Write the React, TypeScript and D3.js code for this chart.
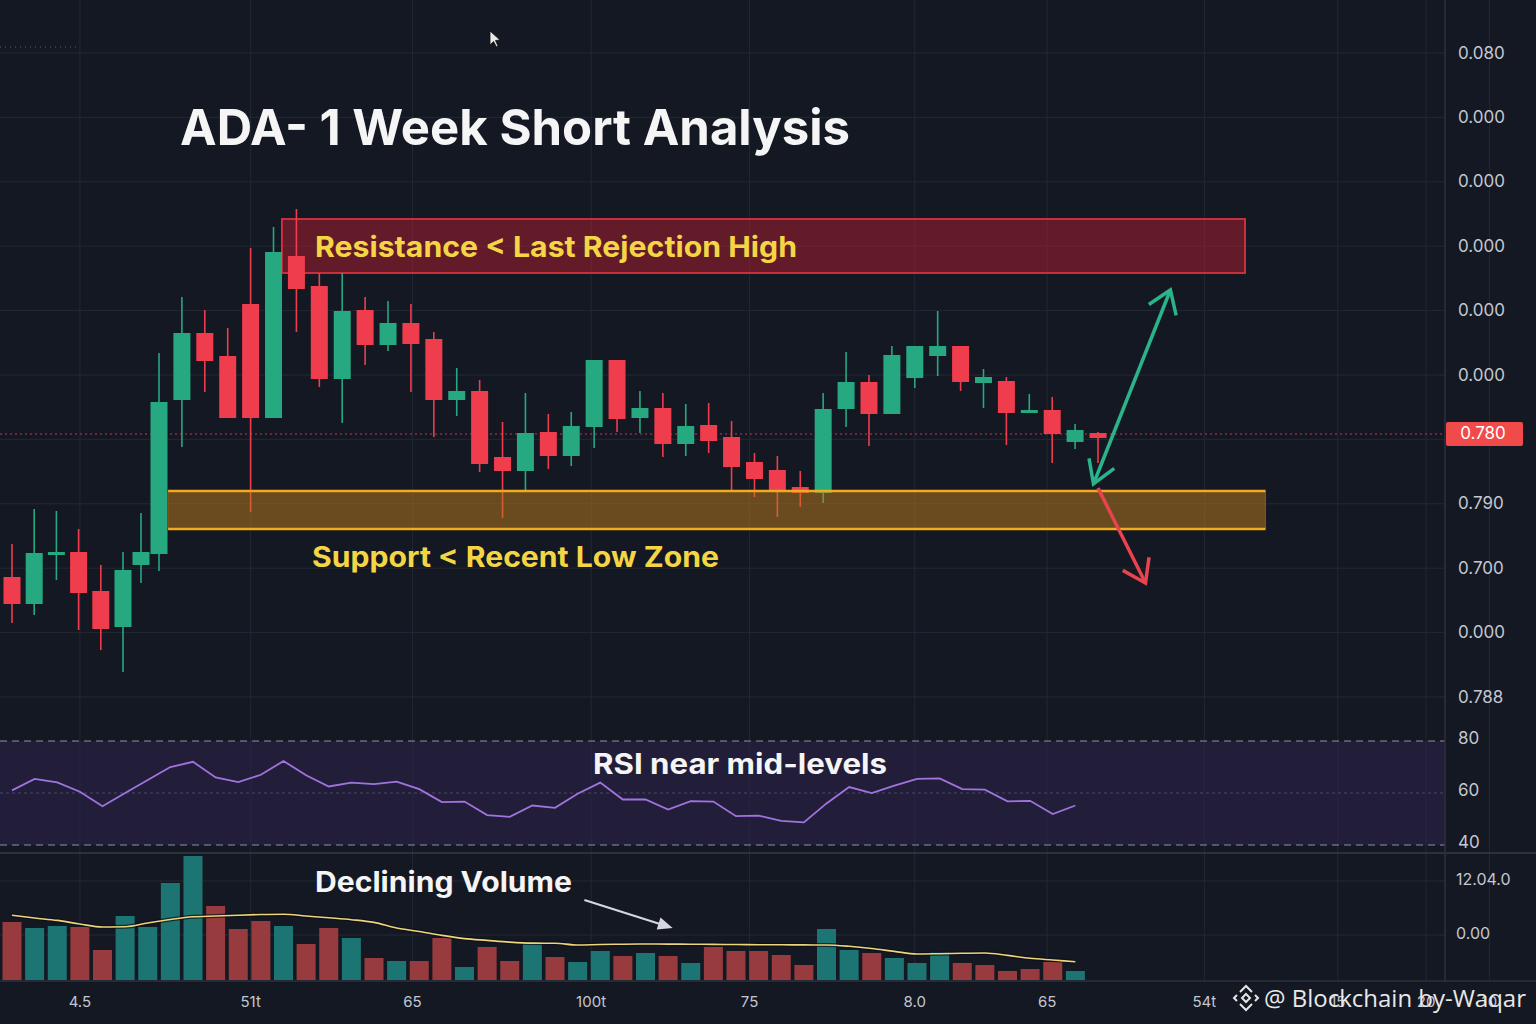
import * as d3 from "d3";

// candles (weekly-ish bars), prices in ADA/USDT
const candleOpen = [
  0.66, 0.6465, 0.671, 0.6725, 0.653, 0.635, 0.666, 0.6715, 0.7485, 0.782,
  0.7705, 0.7965, 0.7395, 0.8205, 0.8055, 0.759, 0.7935, 0.776, 0.787, 0.779,
  0.7485, 0.753, 0.72, 0.713, 0.7325, 0.7205, 0.735, 0.7685, 0.7395, 0.7445,
  0.7265, 0.736, 0.73, 0.7175, 0.7135, 0.705, 0.702, 0.744, 0.7575, 0.7415,
  0.7595, 0.7705, 0.7755, 0.757, 0.758, 0.742, 0.7435, 0.7275, 0.732,
];
const candleHigh = [
  0.6765, 0.694, 0.693, 0.684, 0.666, 0.6725, 0.692, 0.772, 0.8, 0.7935,
  0.7845, 0.8245, 0.835, 0.844, 0.812, 0.812, 0.8, 0.798, 0.7965, 0.7825,
  0.7645, 0.7585, 0.7375, 0.752, 0.7415, 0.7425, 0.7685, 0.7685, 0.753, 0.752,
  0.7465, 0.747, 0.738, 0.722, 0.7205, 0.713, 0.752, 0.7725, 0.761, 0.7755,
  0.7755, 0.793, 0.7755, 0.764, 0.76, 0.7515, 0.75, 0.7365, 0.7325,
];
const candleLow = [
  0.637, 0.641, 0.6585, 0.6335, 0.6235, 0.6125, 0.657, 0.663, 0.725, 0.7525,
  0.7395, 0.6925, 0.7395, 0.7825, 0.755, 0.737, 0.766, 0.773, 0.7525, 0.73,
  0.7405, 0.7125, 0.6895, 0.7035, 0.714, 0.7155, 0.7245, 0.7325, 0.732, 0.72,
  0.7205, 0.722, 0.7035, 0.7, 0.69, 0.695, 0.697, 0.735, 0.7255, 0.7415,
  0.7545, 0.7605, 0.753, 0.7445, 0.726, 0.742, 0.717, 0.724, 0.717,
];
const candleClose = [
  0.6465, 0.672, 0.6725, 0.652, 0.634, 0.6635, 0.6725, 0.7475, 0.782, 0.768,
  0.7395, 0.7395, 0.8225, 0.804, 0.759, 0.793, 0.776, 0.787, 0.7765, 0.7485,
  0.753, 0.7165, 0.713, 0.732, 0.7205, 0.7355, 0.7685, 0.739, 0.7445, 0.7265,
  0.7355, 0.728, 0.715, 0.709, 0.7035, 0.702, 0.744, 0.7575, 0.7415, 0.771,
  0.7755, 0.7755, 0.7575, 0.76, 0.742, 0.7435, 0.7315, 0.7335, 0.7295,
];

// volume panel (M), 1 = up bar
const volumes = [
  58, 52, 54, 53, 30, 64, 53, 97, 124, 74, 51, 59, 54, 36, 52, 42, 22, 19, 19, 42,
  13, 33, 19, 38, 23, 18, 29, 24, 27, 24, 17, 33, 29, 29, 25, 15, 51, 30, 27, 22,
  17, 28, 17, 15, 9, 11, 18, 9,
];
const volumeUp = [
  0, 1, 1, 0, 0, 1, 1, 1, 1, 0, 0, 0, 1, 0, 0, 1, 0, 1, 0, 0, 1, 0, 0, 1, 0, 1,
  1, 0, 1, 0, 1, 0, 0, 0, 0, 0, 1, 1, 0, 1, 1, 1, 0, 0, 0, 0, 0, 1,
];
const volumeMA = [
  64.7, 62, 59.6, 56, 53, 53.2, 57, 60.5, 63.2, 64, 64.8, 65.5, 65.8, 64, 62.2,
  60.3, 57.6, 52, 48.5, 44.6, 41.4, 39.6, 37.9, 36.9, 36.7, 35, 35.5, 35.8, 36,
  35.9, 35.8, 35.6, 35.5, 35.3, 35.2, 35.1, 35, 33.7, 31.5, 28.6, 26, 26.3, 26.7,
  27, 24.6, 21.7, 20, 18.3,
];

// RSI
const rsi = [
  61, 65.4, 64.1, 60.5, 54.9, 60, 65, 70, 72, 66, 64.2, 67, 72.3, 66.8, 62.5, 64,
  63.4, 64.4, 61.5, 56.5, 56.7, 51.5, 50.8, 55.2, 54.3, 59.7, 64, 57.5, 57.5, 53.6,
  56.9, 56.7, 51.1, 51.3, 49.3, 48.7, 56, 62.3, 60, 62.8, 65.4, 65.6, 61.5, 61.3,
  56.8, 57, 51.9, 55.2,
];

// axis labels as printed on the chart (bottom to top)
const priceTickLabels = ["0.788", "0.000", "0.700", "0.790", "", "0.000", "0.000", "0.000", "0.000", "0.000", "0.080"];
const rsiTicks = [40, 60, 80];
const volumeTickValues = [45, 99];
const volumeTickLabels = ["0.00", "12.04.0"];
const timeTickIndex = [3, 10.55, 17.7, 25.6, 32.6, 39.9, 45.75, 52.7, 58.6, 62.5, 65.3];
const timeTickLabels = ["4.5", "51t", "65", "100t", "75", "8.0", "65", "54t", "15", "20", "10"];

// annotations
const lastPrice = 0.7315;
const lastPriceLabel = "0.780";
const resistanceZone = { from: 11.93, to: 54.5, low: 0.812, high: 0.839 };
const supportZone = { from: 6.9, to: 55.4, low: 0.684, high: 0.703 };
const upArrow = { i0: 47.8, p0: 0.7065, i1: 51.2, p1: 0.8035 };
const downArrow = { i0: 48, p0: 0.7045, i1: 50.1, p1: 0.657 };
const volArrow = { i0: 25.3, v0: 80, i1: 29.2, v1: 52 };

const BG = "#141822";
const GRID = "#232834";
const UP = "#26a881";
const DOWN = "#ef3d4d";
const AXIS_TEXT = "#c3c7d1";
const RIGHT = 1445;

function chevron(x1: number, y1: number, x2: number, y2: number, len: number, ang: number) {
  const a = Math.atan2(y2 - y1, x2 - x1);
  const p1 = [x2 - len * Math.cos(a - ang), y2 - len * Math.sin(a - ang)];
  const p2 = [x2 - len * Math.cos(a + ang), y2 - len * Math.sin(a + ang)];
  return `M${p1[0]},${p1[1]}L${x2},${y2}L${p2[0]},${p2[1]}`;
}

export default function App() {
  // time axis for the panels; candles sit slightly tighter at the start
  const x = d3.scaleLinear().domain([0, 48]).range([12, 1098]);
  const xc = d3.scaleLinear().domain([0, 5, 7, 48]).range([12, 123, 159, 1098]);
  const y = d3.scaleLinear().domain([0.6, 0.922]).range([697, 53]);
  const yRsi = d3.scaleLinear().domain([40, 80]).range([845, 741]);
  const yVol = d3.scaleLinear().domain([0, 125]).range([980, 855]);
  const priceTicks = d3.range(11).map((i) => 0.6 + i * 0.0322);

  const bodyW = 17;
  const volW = 19;

  const rsiPath = d3
    .line<number>()
    .x((_, i) => x(i))
    .y((d) => yRsi(d))(rsi);
  const maPath = d3
    .line<number>()
    .x((_, i) => x(i))
    .y((d) => yVol(d))
    .curve(d3.curveMonotoneX)(volumeMA);

  const candles = candleOpen.map((o, i) => {
    const c = candleClose[i];
    const up = c >= o;
    const col = up ? UP : DOWN;
    const top = y(Math.max(o, c));
    const h = Math.max(2, Math.abs(y(o) - y(c)));
    return (
      <g key={i}>
        <line x1={xc(i)} x2={xc(i)} y1={y(candleHigh[i])} y2={y(candleLow[i])} stroke={col} strokeWidth={1.6} />
        <rect x={xc(i) - bodyW / 2} y={top} width={bodyW} height={h} fill={col} />
      </g>
    );
  });

  const volBars = volumes.map((v, i) => (
    <rect
      key={i}
      x={x(i) - volW / 2}
      y={yVol(v)}
      width={volW}
      height={yVol(0) - yVol(v)}
      fill={volumeUp[i] ? "#1d7573" : "#983b3e"}
    />
  ));

  const ua = { x1: x(upArrow.i0), y1: y(upArrow.p0), x2: x(upArrow.i1), y2: y(upArrow.p1) };
  const da = { x1: x(downArrow.i0), y1: y(downArrow.p0), x2: x(downArrow.i1), y2: y(downArrow.p1) };
  const va = { x1: x(volArrow.i0), y1: yVol(volArrow.v0), x2: x(volArrow.i1), y2: yVol(volArrow.v1) };
  const vaAng = Math.atan2(va.y2 - va.y1, va.x2 - va.x1);

  const font = "Inter, 'Open Sans', sans-serif";

  return (
    <svg
      width={1536}
      height={1024}
      style={{ position: "absolute", left: 0, top: 0, display: "block" }}
      fontFamily={font}
    >
      <rect width={1536} height={1024} fill={BG} />

      {/* grid */}
      {priceTicks.map((t, i) => (
        <line key={"h" + i} x1={0} x2={RIGHT} y1={y(t)} y2={y(t)} stroke={GRID} strokeWidth={1} />
      ))}
      {volumeTickValues.map((t, i) => (
        <line key={"hv" + i} x1={0} x2={RIGHT} y1={yVol(t)} y2={yVol(t)} stroke={GRID} strokeWidth={1} />
      ))}
      {timeTickIndex.map((t, i) => (
        <line key={"v" + i} x1={x(t)} x2={x(t)} y1={0} y2={980} stroke={GRID} strokeWidth={1} />
      ))}
      <line x1={0} x2={80} y1={47} y2={47} stroke="#5a5f6e" strokeDasharray="1 4" />

      {/* RSI panel */}
      <rect x={0} y={yRsi(80)} width={RIGHT} height={yRsi(40) - yRsi(80)} fill="#2a2248" opacity={0.65} />
      <line x1={0} x2={RIGHT} y1={yRsi(80)} y2={yRsi(80)} stroke="#8d92a3" strokeDasharray="7 5" strokeWidth={1.2} />
      <line x1={0} x2={RIGHT} y1={yRsi(40)} y2={yRsi(40)} stroke="#8d92a3" strokeDasharray="7 5" strokeWidth={1.2} />
      <line x1={0} x2={RIGHT} y1={yRsi(60)} y2={yRsi(60)} stroke="#4a4866" strokeDasharray="3 3" strokeWidth={1} />
      <path d={rsiPath ?? ""} fill="none" stroke="#a173df" strokeWidth={1.8} />
      <line x1={0} x2={1536} y1={853} y2={853} stroke="#363a47" strokeWidth={1.5} />

      {/* resistance zone under candles */}
      <rect
        x={x(resistanceZone.from)}
        y={y(resistanceZone.high)}
        width={x(resistanceZone.to) - x(resistanceZone.from)}
        height={y(resistanceZone.low) - y(resistanceZone.high)}
        fill="#c42036"
        fillOpacity={0.45}
        stroke="#d8323e"
        strokeWidth={1.8}
      />

      {/* last price line */}
      <line x1={0} x2={RIGHT} y1={y(lastPrice)} y2={y(lastPrice)} stroke="#e0405a" strokeDasharray="2 3" strokeWidth={1} opacity={0.85} />

      {candles}

      {/* support zone over candles */}
      <rect
        x={x(supportZone.from)}
        y={y(supportZone.high)}
        width={x(supportZone.to) - x(supportZone.from)}
        height={y(supportZone.low) - y(supportZone.high)}
        fill="#c07c1c"
        fillOpacity={0.5}
        stroke="#8a5a18"
        strokeWidth={1}
      />
      <line x1={x(supportZone.from)} x2={x(supportZone.to)} y1={y(supportZone.high)} y2={y(supportZone.high)} stroke="#f2aa1e" strokeWidth={2.5} />
      <line x1={x(supportZone.from)} x2={x(supportZone.to)} y1={y(supportZone.low)} y2={y(supportZone.low)} stroke="#f2aa1e" strokeWidth={2.5} />

      {/* scenario arrows */}
      <line x1={ua.x1} y1={ua.y1} x2={ua.x2} y2={ua.y2} stroke="#2bb38a" strokeWidth={3.5} />
      <path d={chevron(ua.x1, ua.y1, ua.x2, ua.y2, 26, 0.6)} fill="none" stroke="#2bb38a" strokeWidth={3.5} />
      <path d={chevron(ua.x2, ua.y2, ua.x1, ua.y1, 26, 0.55)} fill="none" stroke="#2bb38a" strokeWidth={3.5} />
      <line x1={da.x1} y1={da.y1} x2={da.x2} y2={da.y2} stroke="#e8434f" strokeWidth={3.5} />
      <path d={chevron(da.x1, da.y1, da.x2, da.y2, 26, 0.6)} fill="none" stroke="#e8434f" strokeWidth={3.5} />

      {/* volume */}
      {volBars}
      <path d={maPath ?? ""} fill="none" stroke="#0b0d12" strokeWidth={4} opacity={0.7} />
      <path d={maPath ?? ""} fill="none" stroke="#ecd57a" strokeWidth={1.6} />
      <line x1={0} x2={1536} y1={981} y2={981} stroke="#2c303c" strokeWidth={1.5} />

      <line
        x1={va.x1}
        y1={va.y1}
        x2={va.x2 - 10 * Math.cos(vaAng)}
        y2={va.y2 - 10 * Math.sin(vaAng)}
        stroke="#d4d7e0"
        strokeWidth={2.2}
      />
      <path
        d={`M${va.x2},${va.y2}L${va.x2 - 16 * Math.cos(vaAng - 0.4)},${va.y2 - 16 * Math.sin(vaAng - 0.4)}L${va.x2 - 16 * Math.cos(vaAng + 0.4)},${va.y2 - 16 * Math.sin(vaAng + 0.4)}Z`}
        fill="#d4d7e0"
      />

      {/* right axis */}
      <line x1={RIGHT} x2={RIGHT} y1={0} y2={981} stroke="#2c303c" strokeWidth={1.5} />
      {priceTicks.map((t, i) =>
        priceTickLabels[i] ? (
          <text key={"pl" + i} x={1458} y={y(t) + 1} dominantBaseline="middle" fontSize={17} fill={AXIS_TEXT}>
            {priceTickLabels[i]}
          </text>
        ) : null
      )}
      <rect x={1446} y={y(lastPrice) - 12} width={77} height={24} rx={2} fill="#f04a4a" />
      <text x={1483} y={y(lastPrice)} dominantBaseline="middle" textAnchor="middle" fontSize={17} fill="#ffffff">
        {lastPriceLabel}
      </text>
      {rsiTicks.map((t) => (
        <text key={"r" + t} x={1458} y={yRsi(t) - 2} dominantBaseline="middle" fontSize={17} fill={AXIS_TEXT}>
          {t}
        </text>
      ))}
      {volumeTickValues.map((t, i) => (
        <text key={"vl" + i} x={1456} y={yVol(t)} dominantBaseline="middle" fontSize={16} fill={AXIS_TEXT}>
          {volumeTickLabels[i]}
        </text>
      ))}

      {/* bottom axis */}
      {timeTickIndex.map((t, i) => (
        <text key={"t" + i} x={x(t)} y={1003} dominantBaseline="middle" textAnchor="middle" fontSize={15} fill={AXIS_TEXT}>
          {timeTickLabels[i]}
        </text>
      ))}

      {/* titles & notes */}
      <text x={180} y={145} fontSize={50} fontWeight={700} fill="#f5f5f5" textLength={670} lengthAdjust="spacingAndGlyphs">
        ADA- 1 Week Short Analysis
      </text>
      <text x={315} y={257} fontSize={29} fontWeight={700} fill="#f4d645" textLength={482} lengthAdjust="spacingAndGlyphs">
        Resistance &lt; Last Rejection High
      </text>
      <text x={312} y={567} fontSize={28} fontWeight={700} fill="#f4d645" textLength={407} lengthAdjust="spacingAndGlyphs">
        Support &lt; Recent Low Zone
      </text>
      <text x={593} y={774} fontSize={28} fontWeight={700} fill="#f5f5f5" textLength={294} lengthAdjust="spacingAndGlyphs">
        RSI near mid-levels
      </text>
      <text x={315} y={892} fontSize={28} fontWeight={700} fill="#f5f5f5" textLength={257} lengthAdjust="spacingAndGlyphs">
        Declining Volume
      </text>

      {/* cursor */}
      <path d="M490,31 L490,45 L493.5,41.5 L496.5,47 L498,46 L495.5,40.5 L500,40 Z" fill="#e8e8e8" stroke="#111" strokeWidth={0.8} />

      {/* watermark */}
      <g transform="translate(1246,998)" fill="none" stroke="#e6e6e6" strokeWidth={2}>
        <path d="M0,-4 L4,0 L0,4 L-4,0 Z" />
        <path d="M-6,-6 L0,-12 L6,-6" />
        <path d="M-6,6 L0,12 L6,6" />
        <path d="M-9,-3 L-12,0 L-9,3" />
        <path d="M9,-3 L12,0 L9,3" />
      </g>
      <text x={1264} y={1007} fontSize={24} fill="#e8e8e8" textLength={262} lengthAdjust="spacingAndGlyphs" fontFamily="'Open Sans', sans-serif">
        @ Blockchain by-Waqar
      </text>
    </svg>
  );
}
